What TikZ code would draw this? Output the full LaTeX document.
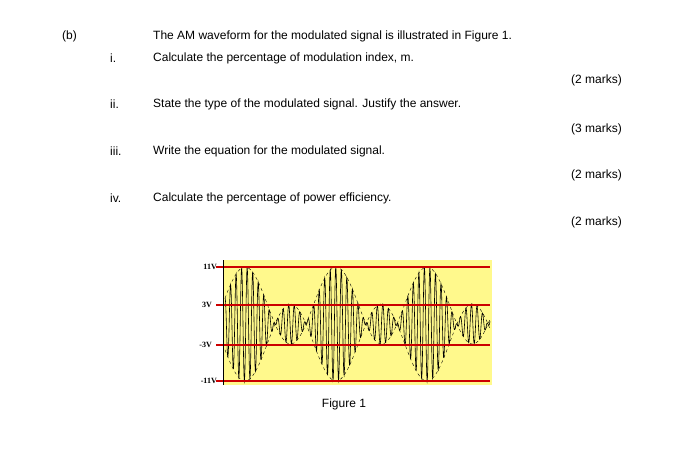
\documentclass[tikz,border=0pt]{standalone}
\usepackage{fontspec}
\setmainfont{Liberation Sans}
\newfontfamily\lblfont{Liberation Serif}
\begin{document}
\begin{tikzpicture}[x=1pt,y=-1pt,
  txt/.style={anchor=west,inner sep=0pt,font=\fontsize{12}{14}\selectfont},
  mk/.style={anchor=east,inner sep=0pt,font=\fontsize{12}{14}\selectfont},
  vl/.style={anchor=east,inner sep=0pt,font=\lblfont\bfseries\fontsize{8}{9}\selectfont},
  redl/.style={draw=red!80!black,line width=1.3pt}]
\useasboundingbox (0,0) rectangle (700,461);
\node[txt] (b) at (62,36) {(b)};
\node[txt] (t0) at (153,36) {The AM waveform for the modulated signal is illustrated in Figure 1.};
\node[txt] (n1) at (110,58) {i.};
\node[txt] (t1) at (153,58) {Calculate the percentage of modulation index, m.};
\node[mk] (m1) at (622,80) {(2 marks)};
\node[txt] (n2) at (110,104) {ii.};
\node[txt] (t2) at (153,104) {State the type of the modulated signal. Justify the answer.};
\node[mk] (m2) at (622,129) {(3 marks)};
\node[txt] (n3) at (110,151) {iii.};
\node[txt] (t3) at (153,151) {Write the equation for the modulated signal.};
\node[mk] (m3) at (622,175) {(2 marks)};
\node[txt] (n4) at (110,198) {iv.};
\node[txt] (t4) at (153,198) {Calculate the percentage of power efficiency.};
\node[mk] (m4) at (622,222) {(2 marks)};
\fill[yellow!45] (223,260) rectangle (492,385);
\draw[black,line width=0.6pt] plot[domain=225:490,samples=1000] (\x,{324-(18.5+38.5*cos(3.956*(\x-245)))*cos(65*mod(\x-225,5.5385))});
\draw[black,dashed,line width=0.4pt] plot[domain=225:490,samples=200,smooth] (\x,{324-(18.5+38.5*cos(3.956*(\x-245)))});
\draw[black,dashed,line width=0.4pt] plot[domain=225:490,samples=200,smooth] (\x,{324+(18.5+38.5*cos(3.956*(\x-245)))});
\foreach \yy/\lab/\xx in {267/11V/217,305/3V/212,345/-3V/212,381/-11V/217}{
  \draw[redl] (216,\yy) -- (490,\yy);
  \node[vl] at (\xx,\yy) {\lab};
}
\draw[black,line width=1pt] (223,260) -- (223,385);
\node[inner sep=0pt,font=\fontsize{12}{14}\selectfont] (f1) at (344,404) {Figure 1};
\end{tikzpicture}
\end{document}
